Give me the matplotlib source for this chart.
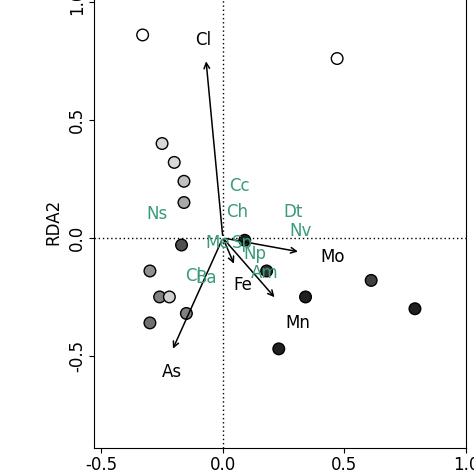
import matplotlib
matplotlib.use("Agg")
import matplotlib.pyplot as plt

px = [-0.33, 0.47, -0.25, -0.20, -0.16, -0.16, -0.17, -0.30, -0.26, -0.22, -0.30, -0.15, 0.09, 0.18, 0.34, 0.23, 0.61, 0.79]
py = [0.86, 0.76, 0.40, 0.32, 0.24, 0.15, -0.03, -0.14, -0.25, -0.25, -0.36, -0.32, -0.01, -0.14, -0.25, -0.47, -0.18, -0.30]
pc = ['white', 'white', '#d8d8d8', '#d8d8d8', '#c0c0c0', '#a8a8a8', '#505050', '#909090', '#808080', '#d0d0d0', '#707070', '#808080',
      '#202020', '#303030', '#202020', '#202020', '#404040', '#202020']

env_names = ['Cl', 'As', 'Mo', 'Mn', 'Fe']
env_x = [-0.07, -0.21, 0.32, 0.22, 0.05]
env_y = [0.76, -0.48, -0.06, -0.26, -0.12]
env_lx = [-0.08, -0.21, 0.45, 0.31, 0.08]
env_ly = [0.84, -0.57, -0.08, -0.36, -0.20]

sp_names = ['Cc', 'Ch', 'Ns', 'Dt', 'Nv', 'Np', 'Am', 'Cl', 'Ba', 'Me', 'Sp']
sp_x = [0.07, 0.06, -0.27, 0.29, 0.32, 0.13, 0.17, -0.12, -0.07, -0.02, 0.08]
sp_y = [0.22, 0.11, 0.10, 0.11, 0.03, -0.07, -0.15, -0.16, -0.17, -0.02, -0.02]

fig = plt.figure(figsize=(4.74, 4.74), dpi=100)
ax = fig.add_axes([94/474, 26/474, 372/474, 452/474])
ax.set_xlim(-0.53, 1.0)
ax.set_ylim(-0.89, 1.025)
ax.axhline(0, color='black', ls=(0, (1, 2)), lw=1)
ax.axvline(0, color='black', ls=(0, (1, 2)), lw=1)
ax.scatter(px, py, s=70, c=pc, edgecolors='black', linewidths=1, zorder=3)
for n, x, y, lx, ly in zip(env_names, env_x, env_y, env_lx, env_ly):
    ax.annotate('', xy=(x, y), xytext=(0, 0),
                arrowprops=dict(arrowstyle='->', color='black', lw=1.1), zorder=4)
    ax.text(lx, ly, n, fontsize=12, ha='center', va='center', color='black', zorder=5)
for n, x, y in zip(sp_names, sp_x, sp_y):
    ax.text(x, y, n, fontsize=12, ha='center', va='center', color='#3a9a7a', zorder=5)
ax.set_xticks([-0.5, 0.0, 0.5, 1.0])
ax.set_xticklabels(['-0.5', '0.0', '0.5', '1.0'])
ax.set_yticks([-0.5, 0.0, 0.5, 1.0])
ax.set_yticklabels(['-0.5', '0.0', '0.5', '1.0'], rotation=90, va='center')
ax.tick_params(labelsize=12, pad=2)
ax.set_xlabel('RDA1', fontsize=12, labelpad=2)
ax.set_ylabel('RDA2', fontsize=12)
fig.savefig('out.png', dpi=100)
